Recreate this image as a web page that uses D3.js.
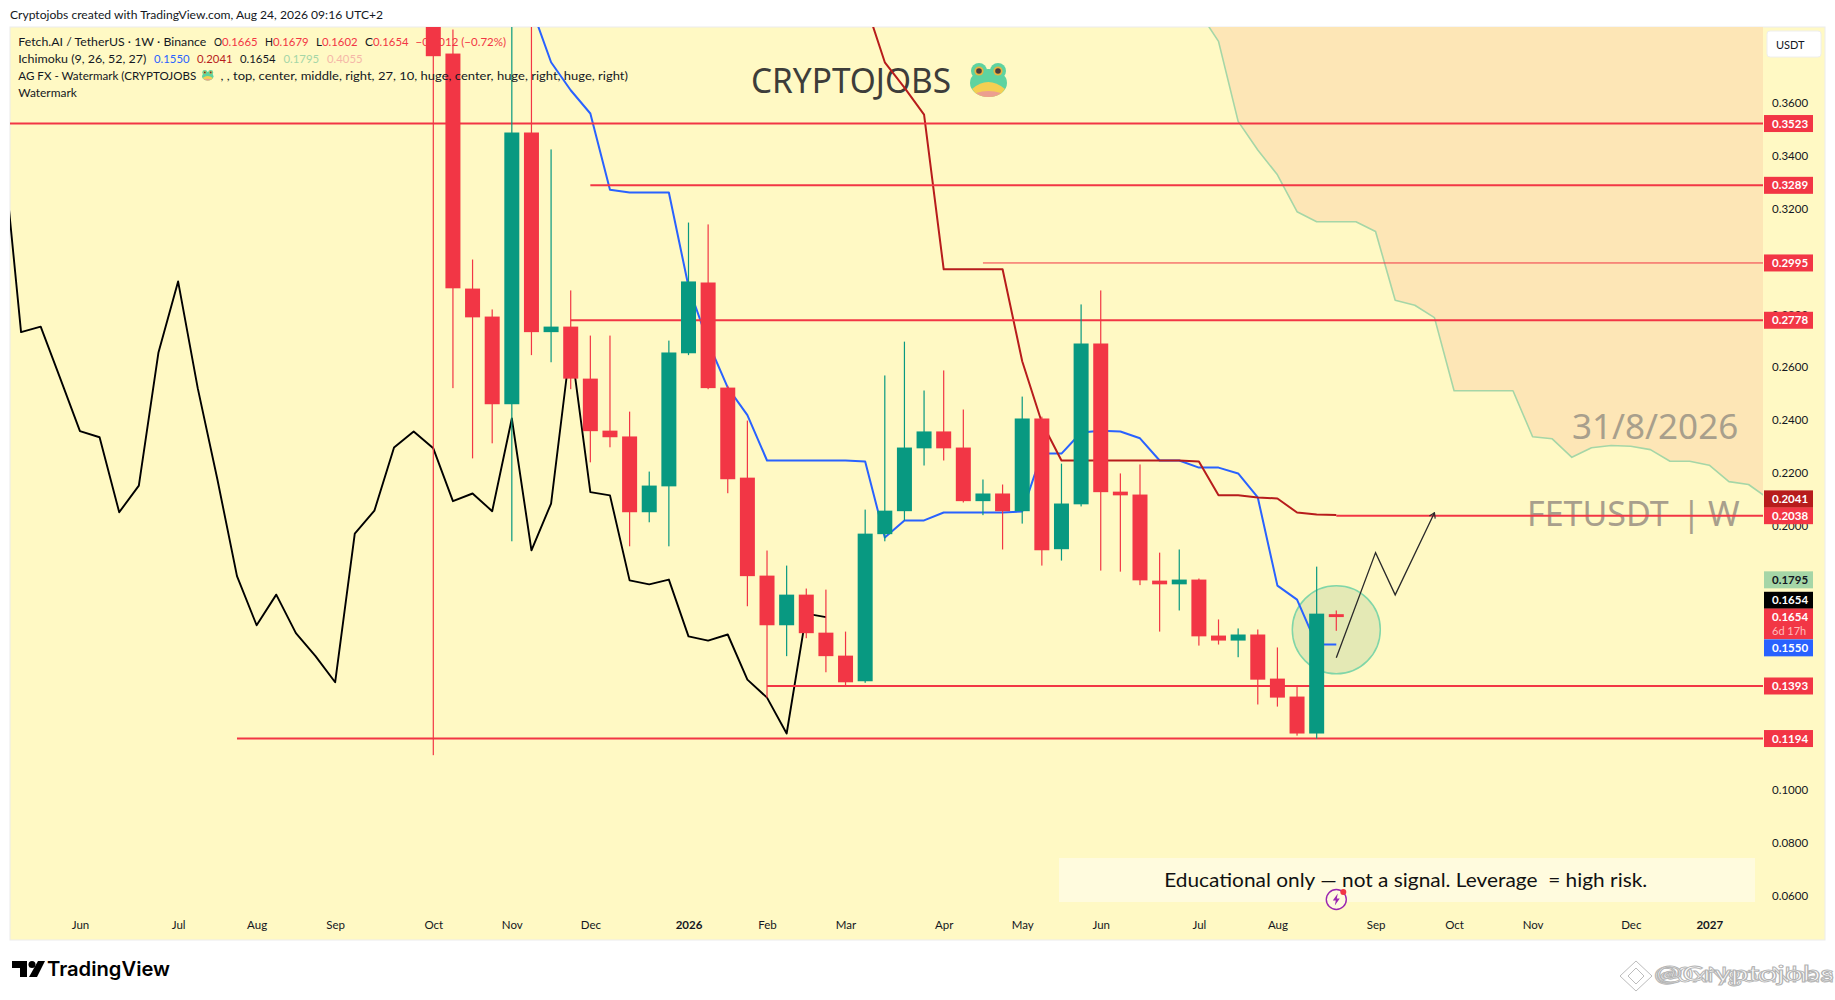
<!DOCTYPE html>
<html>
<head>
<meta charset="utf-8">
<title>FETUSDT weekly</title>
<script src="https://cdn.jsdelivr.net/npm/d3@7"></script>
<style>
    html, body { margin: 0; background: #fff; }
    svg { display: block; font-family: Lato, sans-serif; }
</style>
</head>
<body>
<svg class="graph"></svg>
<script>
// weekly candles, bar 0 is the week of 6 Oct 2025
const opens = [0.3950, 0.3788, 0.2898, 0.2792, 0.2460, 0.3489, 0.2733, 0.2754, 0.2557, 0.2360, 0.2338, 0.2051, 0.2149, 0.2653, 0.2921, 0.2523, 0.2182, 0.1811, 0.1623, 0.1739, 0.1595, 0.1508, 0.1411, 0.1968, 0.2055, 0.2293, 0.2357, 0.2296, 0.2093, 0.2122, 0.2055, 0.2406, 0.1911, 0.2081, 0.2690, 0.2129, 0.2118, 0.1792, 0.1778, 0.1796, 0.1584, 0.1565, 0.1588, 0.1421, 0.1353, 0.1213, 0.1665];
const highs = [0.4600, 0.3879, 0.3008, 0.2819, 0.4000, 0.4000, 0.3425, 0.2891, 0.2720, 0.2720, 0.2432, 0.2205, 0.2701, 0.3148, 0.3141, 0.2530, 0.2398, 0.1906, 0.1849, 0.1762, 0.1758, 0.1599, 0.2061, 0.2569, 0.2697, 0.2512, 0.2588, 0.2440, 0.2175, 0.2156, 0.2489, 0.2413, 0.2235, 0.2838, 0.2891, 0.2198, 0.2232, 0.1898, 0.1910, 0.1800, 0.1645, 0.1611, 0.1607, 0.1539, 0.1395, 0.1845, 0.1679];
const lows = [0.1131, 0.2521, 0.2255, 0.2312, 0.1941, 0.2646, 0.2619, 0.2517, 0.2240, 0.2297, 0.1922, 0.2013, 0.1922, 0.2646, 0.2517, 0.2123, 0.1695, 0.1349, 0.1506, 0.1574, 0.1445, 0.1396, 0.1405, 0.1941, 0.2020, 0.2228, 0.2247, 0.2088, 0.2040, 0.1910, 0.2008, 0.1849, 0.1868, 0.2073, 0.1830, 0.1826, 0.1775, 0.1599, 0.1679, 0.1546, 0.1550, 0.1502, 0.1323, 0.1315, 0.1205, 0.1194, 0.1602];
const closes = [0.3778, 0.2899, 0.2789, 0.2460, 0.3489, 0.2733, 0.2754, 0.2557, 0.2358, 0.2335, 0.2051, 0.2152, 0.2656, 0.2925, 0.2521, 0.2176, 0.1809, 0.1623, 0.1739, 0.1593, 0.1506, 0.1407, 0.1970, 0.2057, 0.2296, 0.2357, 0.2293, 0.2093, 0.2122, 0.2055, 0.2406, 0.1907, 0.2084, 0.2690, 0.2127, 0.2115, 0.1793, 0.1778, 0.1796, 0.1581, 0.1565, 0.1588, 0.1417, 0.1349, 0.1213, 0.1667, 0.1654];

// ichimoku lines, each starts at its own bar
const tenkanStart = 5;
const tenkan = [0.3962, 0.3755, 0.3649, 0.3561, 0.3272, 0.3262, 0.3262, 0.3262, 0.2906, 0.2694, 0.2523, 0.2419, 0.2247, 0.2247, 0.2247, 0.2247, 0.2247, 0.2243, 0.1955, 0.2020, 0.2020, 0.2050, 0.2050, 0.2050, 0.2050, 0.2054, 0.2273, 0.2273, 0.2353, 0.2360, 0.2357, 0.2331, 0.2247, 0.2247, 0.2220, 0.2220, 0.2198, 0.2107, 0.1773, 0.1720, 0.1550, 0.1550];
const kijunStart = 22;
const kijun = [0.3981, 0.3755, 0.3659, 0.3557, 0.2971, 0.2971, 0.2971, 0.2971, 0.2623, 0.2391, 0.2247, 0.2247, 0.2247, 0.2247, 0.2247, 0.2247, 0.2247, 0.2243, 0.2115, 0.2115, 0.2107, 0.2103, 0.2050, 0.2042, 0.2041];
const laggingStart = -22;
const lagging = [0.3489, 0.2733, 0.2754, 0.2557, 0.2358, 0.2335, 0.2051, 0.2152, 0.2656, 0.2925, 0.2521, 0.2176, 0.1809, 0.1623, 0.1739, 0.1593, 0.1506, 0.1407, 0.1970, 0.2057, 0.2296, 0.2357, 0.2293, 0.2093, 0.2122, 0.2055, 0.2406, 0.1907, 0.2084, 0.2690, 0.2127, 0.2115, 0.1793, 0.1778, 0.1796, 0.1581, 0.1565, 0.1588, 0.1417, 0.1349, 0.1213, 0.1667, 0.1654];
const spanAStart = 39;
const spanA = [0.3947, 0.3834, 0.3531, 0.3423, 0.3329, 0.3189, 0.3151, 0.3151, 0.3151, 0.3114, 0.2854, 0.2835, 0.2788, 0.2511, 0.2511, 0.2511, 0.2511, 0.2337, 0.2329, 0.2259, 0.2295, 0.2304, 0.2301, 0.2288, 0.2244, 0.2244, 0.2229, 0.2167, 0.2156, 0.2103];
const spanB = 0.4055;

// drawn levels: price and first bar
const levelPrices = [0.3523, 0.3289, 0.2995, 0.2778, 0.2038, 0.1393, 0.1194];
const levelBars = [-22, 8, 28, 7, 46, 17, -10];
const levelWidths = [2, 2, 1, 2, 2, 2, 2];

// projected path
const pathBars = [46, 48, 49, 51];
const pathPrices = [0.1500, 0.1898, 0.1738, 0.2049];
const circleBar = 46;
const circlePrice = 0.1606;

// axes
const priceTicks = [0.36, 0.34, 0.32, 0.30, 0.28, 0.26, 0.24, 0.22, 0.20, 0.18, 0.16, 0.14, 0.12, 0.10, 0.08, 0.06];
const monthTicks = ['2025-06-02', '2025-07-07', '2025-08-04', '2025-09-01', '2025-10-06', '2025-11-03', '2025-12-01', '2026-01-05', '2026-02-02', '2026-03-02', '2026-04-06', '2026-05-04', '2026-06-01', '2026-07-06', '2026-08-03', '2026-09-07', '2026-10-05', '2026-11-02', '2026-12-07', '2027-01-04'];

const levelLabels = ['0.3523', '0.3289', '0.2995', '0.2778', '0.2038', '0.1393', '0.1194'];

const RED = '#F23645', GREEN = '#089981', BG = '#FFF9C4', CLOUD = '#FDE6B6';

const W = 1835, H = 1000;
const pane = { left: 10, top: 27, right: 1763, bottom: 940, edge: 1825 };

const svg = d3.select('svg.graph').attr('width', W).attr('height', H).attr('viewBox', `0 0 ${W} ${H}`);

// scales
const barDate = i => d3.utcDay.offset(new Date(Date.UTC(2025, 9, 6)), i * 7);
const x = d3.scaleUtc().domain([barDate(0), barDate(46)]).range([433.3, 1336.3]);
const bx = i => x(barDate(i));
const y = d3.scaleLinear().domain([0.06, 0.36]).range([895.4, 103.2]);

// background panel
svg.append('rect')
    .attr('x', pane.left).attr('y', pane.top)
    .attr('width', pane.edge - pane.left).attr('height', pane.bottom - pane.top)
    .attr('fill', BG).attr('stroke', '#ececec');

svg.append('clipPath').attr('id', 'plot').append('rect')
    .attr('x', pane.left).attr('y', pane.top)
    .attr('width', pane.right - pane.left).attr('height', pane.bottom - pane.top);

const plot = svg.append('g').attr('clip-path', 'url(#plot)');

// cloud
const spanPoints = spanA.map((v, i) => ({ i: i + spanAStart, v }));
plot.append('path').datum(spanPoints)
    .attr('fill', CLOUD)
    .attr('d', d3.area().x(d => bx(d.i)).y0(y(spanB)).y1(d => y(d.v)));

// watermarks sit under everything
const mark = plot.append('g').attr('font-family', '"Noto Sans"').attr('font-size', 34);
mark.append('text').attr('x', 751).attr('y', 92.7).attr('fill', '#3d3d3a')
    .attr('textLength', 200).attr('lengthAdjust', 'spacingAndGlyphs').text('CRYPTOJOBS');
mark.append('text').attr('x', 1572).attr('y', 438.5).attr('font-size', 35).attr('fill', '#a89f8c').text('31/8/2026');
const pair = mark.append('text').attr('y', 526).attr('fill', '#a89f8c');
pair.append('tspan').attr('x', 1527).text('FETUSDT');
pair.append('tspan').attr('x', 1682).text('|');
pair.append('tspan').attr('x', 1708).text('W');

// small frog, the emoji font is not available
function frog(parent, px, py, s) {
    const g = parent.append('g').attr('transform', `translate(${px},${py}) scale(${s})`);
    g.append('circle').attr('cx', 9).attr('cy', 8).attr('r', 8).attr('fill', '#5ed3a0');
    g.append('circle').attr('cx', 28).attr('cy', 8).attr('r', 8).attr('fill', '#5ed3a0');
    g.append('ellipse').attr('cx', 18.5).attr('cy', 20).attr('rx', 18.5).attr('ry', 14).attr('fill', '#5ed3a0');
    g.append('path').attr('d', 'M2,26 Q18,12 35,26 Q30,34 18.5,34 Q7,34 2,26Z').attr('fill', '#f5cf52');
    g.append('path').attr('d', 'M6,30 Q18,26 31,30 Q26,34 18.5,34 Q11,34 6,30Z').attr('fill', '#ec9f90');
    [9, 28].forEach(cx => {
        g.append('circle').attr('cx', cx).attr('cy', 8).attr('r', 4.6).attr('fill', '#e8b33f');
        g.append('circle').attr('cx', cx).attr('cy', 8).attr('r', 2.8).attr('fill', '#4a4040');
    });
}
frog(plot, 970, 63, 1);

// highlight circle goes under the lines
plot.append('circle')
    .attr('cx', bx(circleBar)).attr('cy', y(circlePrice)).attr('r', 44)
    .attr('fill', 'rgba(118, 170, 125, 0.2)')
    .attr('stroke', '#80d6a8').attr('stroke-width', 1.5);

// indicator lines
const lineFor = (values, start) => values.map((v, i) => ({ i: i + start, v }));
const line = d3.line().x(d => bx(d.i)).y(d => y(d.v));
const drawLine = (values, start, color, width) => plot.append('path')
    .datum(lineFor(values, start))
    .attr('fill', 'none').attr('stroke', color).attr('stroke-width', width)
    .attr('stroke-linejoin', 'round').attr('d', line);

drawLine(lagging, laggingStart, '#000000', 1.9);
drawLine(tenkan, tenkanStart, '#2962FF', 2);
drawLine(kijun, kijunStart, '#B71C1C', 2);
drawLine(spanA, spanAStart, '#A5D6A7', 1.6);

// levels
plot.selectAll('line.level').data(levelPrices).enter().append('line')
    .attr('class', 'level')
    .attr('x1', (d, i) => bx(levelBars[i]))
    .attr('x2', pane.right)
    .attr('y1', d => y(d)).attr('y2', d => y(d))
    .attr('stroke', RED)
    .attr('stroke-width', (d, i) => levelWidths[i]);

// candles
const candles = closes.map((c, i) => ({ i, o: opens[i], h: highs[i], l: lows[i], c }));
const tile = plot.selectAll('g.candle').data(candles).enter().append('g')
    .attr('class', 'candle')
    .attr('fill', d => d.c >= d.o ? GREEN : RED);
tile.append('rect')
    .attr('x', d => bx(d.i) - 0.6).attr('width', 1.2)
    .attr('y', d => y(d.h)).attr('height', d => y(d.l) - y(d.h));
tile.append('rect')
    .attr('x', d => bx(d.i) - 7.5).attr('width', 15)
    .attr('y', d => y(Math.max(d.o, d.c)))
    .attr('height', d => Math.abs(y(d.o) - y(d.c)));

// projected path with arrow head
svg.append('marker').attr('id', 'head')
    .attr('viewBox', '-6 -4 7 8').attr('markerWidth', 7).attr('markerHeight', 8)
    .attr('refX', 0).attr('refY', 0)
    .attr('markerUnits', 'userSpaceOnUse').attr('orient', 'auto')
    .append('path').attr('d', 'M-5,-3.2 L0,0 L-5,3.2')
    .attr('fill', 'none').attr('stroke', '#2a2a2a').attr('stroke-width', 1.2);
plot.append('path')
    .datum(pathBars.map((b, i) => ({ i: b, v: pathPrices[i] })))
    .attr('fill', 'none').attr('stroke', '#2a2a2a').attr('stroke-width', 1.3)
    .attr('marker-end', 'url(#head)').attr('d', line);

// disclaimer box
svg.append('rect').attr('x', 1059).attr('y', 858).attr('width', 696).attr('height', 44)
    .attr('fill', '#FFFBDE');
svg.append('text').attr('x', 1405.7).attr('y', 886.5).attr('text-anchor', 'middle')
    .attr('font-size', 20).attr('fill', '#111').attr('xml:space', 'preserve')
    .attr('textLength', 483).attr('lengthAdjust', 'spacingAndGlyphs')
    .text('Educational only — not a signal. Leverage  = high risk.');

// flash marker
const flash = svg.append('g').attr('transform', `translate(${bx(46)},899.5)`);
flash.append('circle').attr('r', 10).attr('fill', '#FFFBDE').attr('stroke', '#9c27b0').attr('stroke-width', 1.4);
flash.append('path').attr('d', 'M1.5,-6 L-3.5,1 L-0.5,1 L-1.5,6 L3.5,-1 L0.5,-1Z').attr('fill', '#9c27b0');
flash.append('circle').attr('cx', 7).attr('cy', -7.5).attr('r', 3).attr('fill', RED);

// price axis
const priceAxis = svg.append('g')
    .attr('transform', `translate(${pane.right},0)`)
    .call(d3.axisRight(y).tickValues(priceTicks).tickSize(0).tickPadding(9).tickFormat(d3.format('.4f')));
priceAxis.select('.domain').remove();
priceAxis.selectAll('text').attr('font-family', 'Lato').attr('font-size', 11.5).attr('fill', '#131722');

// time axis
const timeAxis = svg.append('g')
    .attr('transform', 'translate(0,920.5)')
    .call(d3.axisBottom(x).tickValues(monthTicks.map(d => new Date(d + 'T00:00:00Z')))
        .tickSize(0).tickPadding(0)
        .tickFormat(d => d.getUTCMonth() === 0 ? d3.utcFormat('%Y')(d) : d3.utcFormat('%b')(d)));
timeAxis.select('.domain').remove();
timeAxis.selectAll('text')
    .attr('font-family', 'Lato').attr('font-size', 11.5).attr('fill', '#131722')
    .attr('font-weight', d => d.getUTCMonth() === 0 ? 700 : 400);

// price labels on the axis, nudged where they would overlap
const tag = (value, text, fill, color, nudge = 0, h = 17) => {
    const cy = y(value) + nudge;
    svg.append('rect').attr('x', 1764).attr('y', cy - h / 2).attr('width', 49).attr('height', h).attr('fill', fill);
    svg.append('text').attr('x', 1772).attr('y', cy + 4).attr('font-family', 'Lato').attr('font-size', 11.5)
        .attr('font-weight', 700).attr('fill', color).text(text);
};
levelPrices.forEach((p, i) => tag(p, levelLabels[i], RED, '#fff'));
tag(0.2041, '0.2041', '#B71C1C', '#fff', -16);
tag(0.1795, '0.1795', '#A5D6A7', '#131722');
tag(0.1654, '0.1654', '#000000', '#fff', -16.8);
svg.append('rect').attr('x', 1764).attr('y', y(0.1654) - 8.5).attr('width', 49).attr('height', 30.5).attr('fill', RED);
svg.append('text').attr('x', 1772).attr('y', y(0.1654) + 4).attr('font-family', 'Lato').attr('font-size', 11.5)
    .attr('font-weight', 700).attr('fill', '#fff').text('0.1654');
svg.append('text').attr('x', 1772).attr('y', y(0.1654) + 18).attr('font-family', 'Lato').attr('font-size', 11)
    .attr('fill', '#fbb').text('6d 17h');
tag(0.1550, '0.1550', '#2962FF', '#fff', 3.3);

// currency button
svg.append('rect').attr('x', 1767).attr('y', 31).attr('width', 54).attr('height', 26).attr('rx', 3)
    .attr('fill', '#fff').attr('stroke', '#eeeeee');
svg.append('text').attr('x', 1776).attr('y', 49).attr('font-family', 'Lato').attr('font-size', 11).attr('fill', '#131722').text('USDT');

// header and legend, widths fitted to the picture
const INK = '#131722';
const legend = [
    ['Cryptojobs created with TradingView.com, Aug 24, 2026 09:16 UTC+2', 10, 19, 373, INK],
    ['Fetch.AI / TetherUS · 1W · Binance', 18.3, 46, 188, INK],
    ['O', 214, 46, 8, INK], ['0.1665', 222, 46, 35.6, RED],
    ['H', 265, 46, 8, INK], ['0.1679', 273, 46, 35.6, RED],
    ['L', 316, 46, 6, INK], ['0.1602', 322, 46, 35.6, RED],
    ['C', 365, 46, 8, INK], ['0.1654', 373, 46, 35.6, RED],
    ['−0.0012 (−0.72%)', 415.6, 46, 90.5, RED],
    ['Ichimoku (9, 26, 52, 27)', 18.3, 63, 128, INK],
    ['0.1550', 154, 63, 35.6, '#2962FF'], ['0.2041', 197, 63, 35.6, '#B71C1C'],
    ['0.1654', 240, 63, 35.6, INK], ['0.1795', 283.5, 63, 35.6, '#A5D6A7'],
    ['0.4055', 327, 63, 35.6, '#F5B7A8'],
    ['AG FX - Watermark (CRYPTOJOBS', 18.3, 80, 178, INK],
    [', , top, center, middle, right, 27, 10, huge, center, huge, right, huge, right)', 220.5, 80, 407.5, INK],
    ['Watermark', 18.3, 97, 58.5, INK]
];
svg.append('g').attr('font-family', 'Lato').attr('font-size', 12)
    .selectAll('text').data(legend).enter().append('text')
    .attr('x', d => d[1]).attr('y', d => d[2])
    .attr('textLength', d => d[3]).attr('lengthAdjust', 'spacingAndGlyphs')
    .attr('fill', d => d[4]).text(d => d[0]);
frog(svg, 202, 70, 0.31);

// TradingView logo
const logo = svg.append('g').attr('fill', '#000').attr('transform', 'translate(0,-2)');
logo.append('path').attr('d', 'M12,963 H27 V979 H20 V970 H12Z');
logo.append('circle').attr('cx', 32).attr('cy', 966.5).attr('r', 3.5);
logo.append('path').attr('d', 'M38,963 H45 L37,979 H29Z');
svg.append('text').attr('x', 47).attr('y', 976).attr('font-family', 'Inter').attr('font-weight', 600)
    .attr('font-size', 20).attr('textLength', 123).attr('lengthAdjust', 'spacingAndGlyphs').attr('fill', '#000').text('TradingView');

// site stamp, two overlaid handles
const stamp = svg.append('g').attr('font-family', 'Lato').attr('font-size', 21).attr('fill', '#fff')
    .attr('stroke', '#b4b4b4').attr('stroke-width', 0.9);
stamp.append('path').attr('d', 'M1636,961 L1652,976 L1636,991 L1620,976Z M1636,968 L1644,976 L1636,984 L1628,976Z').attr('fill', 'none');
stamp.append('text').attr('x', 1654).attr('y', 982).attr('textLength', 180).attr('lengthAdjust', 'spacingAndGlyphs').text('@0xNgocNhaa');
stamp.append('text').attr('x', 1656).attr('y', 981).attr('textLength', 178).attr('lengthAdjust', 'spacingAndGlyphs').text('@Cryptojobs');
</script>
</body>
</html>
